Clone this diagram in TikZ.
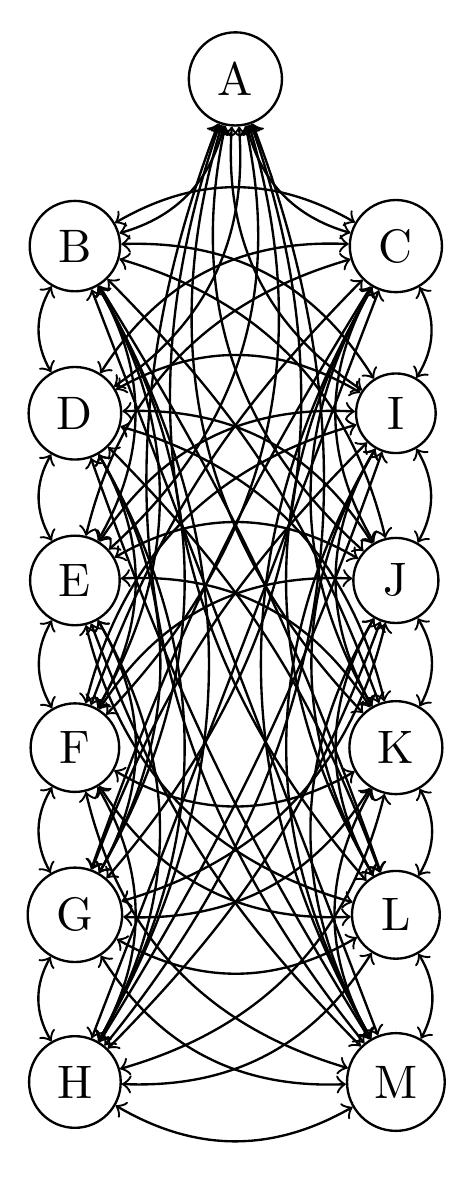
\documentclass[tikz,border=0pt]{standalone}
\begin{document}
\begin{tikzpicture}[
  vtx/.style={circle,draw,line width=0.5pt},
  lk/.style={<->,line width=0.5pt}]
\useasboundingbox (-0.56,0.59) rectangle (2.98,-8.33);
\node[vtx] (A) at (1.2,0) {A};
\node[vtx] (B) at (0,-1.25) {B};
\node[vtx] (C) at (2.4,-1.25) {C};
\node[vtx] (D) at (0,-2.5) {D};
\node[vtx] (I) at (2.4,-2.5) {I};
\node[vtx] (E) at (0,-3.75) {E};
\node[vtx] (J) at (2.4,-3.75) {J};
\node[vtx] (F) at (0,-5) {F};
\node[vtx] (K) at (2.4,-5) {K};
\node[vtx] (G) at (0,-6.25) {G};
\node[vtx] (L) at (2.4,-6.25) {L};
\node[vtx] (H) at (0,-7.5) {H};
\node[vtx] (M) at (2.4,-7.5) {M};
% edges from A
\foreach \u in {B,D,E,F,G,H} \draw[lk] (A) to[bend left=30] (\u);
\foreach \v in {C,I,J,K,L,M} \draw[lk] (A) to[bend right=30] (\v);
% left column
\foreach \u [count=\i] in {B,D,E,F,G,H}{
  \foreach \v [count=\j] in {B,D,E,F,G,H}{
    \ifnum\j>\i
      \ifnum\j=\numexpr\i+1\relax
        \draw[lk] (\u) to[bend right=30] (\v);
      \else
        \draw[lk] (\u) to[bend left=30] (\v);
      \fi
    \fi
  }
}
% right column
\foreach \u [count=\i] in {C,I,J,K,L,M}{
  \foreach \v [count=\j] in {C,I,J,K,L,M}{
    \ifnum\j>\i
      \ifnum\j=\numexpr\i+1\relax
        \draw[lk] (\u) to[bend left=30] (\v);
      \else
        \draw[lk] (\u) to[bend right=30] (\v);
      \fi
    \fi
  }
}
% between columns
\foreach \u [count=\i] in {B,D,E,F,G,H}{
  \foreach \v [count=\j] in {C,I,J,K,L,M}{
    \pgfmathtruncatemacro\d{abs(\i-\j)}
    \pgfmathsetmacro\m{{30,30,30,12,6,0}[\d]}
    \pgfmathsetmacro\b{(\i+\j<=7) ? \m : -\m}
    \pgfmathsetmacro\bi{180-\b}
    \draw[lk] (\u) to[out=\b,in=\bi,relative] (\v);
  }
}
\end{tikzpicture}
\end{document}
